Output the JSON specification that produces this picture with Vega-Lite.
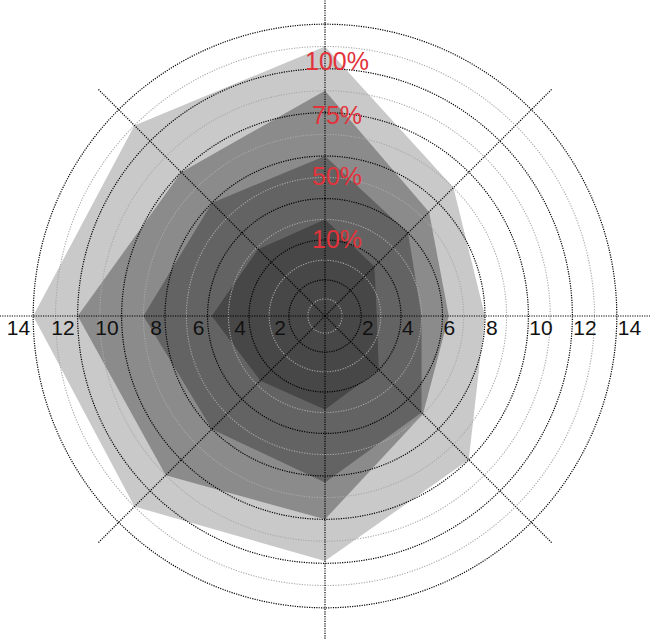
{
  "$schema": "https://vega.github.io/schema/vega-lite/v6.json",
  "width": 650,
  "height": 639,
  "autosize": {"type": "none"},
  "padding": 0,
  "background": "white",
  "config": {"view": {"stroke": null}},
  "resolve": {"scale": {"radius": "independent"}},
  "datasets": {
    "polys": [
      {"s": "s1", "k": 0, "v": 13}, {"s": "s1", "k": 1, "v": 9}, {"s": "s1", "k": 2, "v": 8}, {"s": "s1", "k": 3, "v": 10},
      {"s": "s1", "k": 4, "v": 11.9}, {"s": "s1", "k": 5, "v": 13}, {"s": "s1", "k": 6, "v": 14}, {"s": "s1", "k": 7, "v": 13},
      {"s": "s2", "k": 0, "v": 11}, {"s": "s2", "k": 1, "v": 7.4}, {"s": "s2", "k": 2, "v": 6.3}, {"s": "s2", "k": 3, "v": 7},
      {"s": "s2", "k": 4, "v": 10}, {"s": "s2", "k": 5, "v": 11}, {"s": "s2", "k": 6, "v": 12}, {"s": "s2", "k": 7, "v": 10},
      {"s": "s3", "k": 0, "v": 8}, {"s": "s3", "k": 1, "v": 6}, {"s": "s3", "k": 2, "v": 5}, {"s": "s3", "k": 3, "v": 6.9},
      {"s": "s3", "k": 4, "v": 8.3}, {"s": "s3", "k": 5, "v": 8}, {"s": "s3", "k": 6, "v": 9}, {"s": "s3", "k": 7, "v": 8},
      {"s": "s4", "k": 0, "v": 5}, {"s": "s4", "k": 1, "v": 3.7}, {"s": "s4", "k": 2, "v": 2.8}, {"s": "s4", "k": 3, "v": 4},
      {"s": "s4", "k": 4, "v": 4.85}, {"s": "s4", "k": 5, "v": 4.75}, {"s": "s4", "k": 6, "v": 5.8}, {"s": "s4", "k": 7, "v": 4.9}
    ],
    "minor": [{"v": 1}, {"v": 3}, {"v": 5}, {"v": 7}, {"v": 9}, {"v": 11}, {"v": 13}],
    "major": [{"v": 2}, {"v": 4}, {"v": 6}, {"v": 8}, {"v": 10}, {"v": 12}, {"v": 14}],
    "spokes": [
      {"k": 0, "r": 0}, {"k": 0, "r": 25}, {"k": 1, "r": 0}, {"k": 1, "r": 15.3},
      {"k": 2, "r": 0}, {"k": 2, "r": 25}, {"k": 3, "r": 0}, {"k": 3, "r": 15.3},
      {"k": 4, "r": 0}, {"k": 4, "r": 25}, {"k": 5, "r": 0}, {"k": 5, "r": 15.3},
      {"k": 6, "r": 0}, {"k": 6, "r": 25}, {"k": 7, "r": 0}, {"k": 7, "r": 15.3}
    ],
    "ticks": [{"t": 2}, {"t": 4}, {"t": 6}, {"t": 8}, {"t": 10}, {"t": 12}, {"t": 14}],
    "pct": [
      {"label": "100%", "v": 12.3},
      {"label": "75%", "v": 9.85},
      {"label": "50%", "v": 7},
      {"label": "10%", "v": 4}
    ]
  },
  "layer": [
    {
      "data": {"name": "polys"},
      "transform": [
        {"filter": "datum.s === 's1'"},
        {"calculate": "pow(datum.v, 1.074) * sin(datum.k * PI / 4)", "as": "px"},
        {"calculate": "pow(datum.v, 1.074) * cos(datum.k * PI / 4)", "as": "py"}
      ],
      "mark": {"type": "line", "interpolate": "linear-closed", "fill": "#c9c9c9", "stroke": null, "strokeWidth": 0},
      "encoding": {
        "x": {"field": "px", "type": "quantitative", "scale": {"domain": [-18.955, 18.955], "nice": false, "zero": false}, "axis": null},
        "y": {"field": "py", "type": "quantitative", "scale": {"domain": [-18.838, 18.43], "nice": false, "zero": false}, "axis": null},
        "order": {"field": "k", "type": "quantitative"}
      }
    },
    {
      "data": {"name": "polys"},
      "transform": [
        {"filter": "datum.s === 's2'"},
        {"calculate": "pow(datum.v, 1.074) * sin(datum.k * PI / 4)", "as": "px"},
        {"calculate": "pow(datum.v, 1.074) * cos(datum.k * PI / 4)", "as": "py"}
      ],
      "mark": {"type": "line", "interpolate": "linear-closed", "fill": "#8b8b8b", "stroke": null, "strokeWidth": 0},
      "encoding": {
        "x": {"field": "px", "type": "quantitative"},
        "y": {"field": "py", "type": "quantitative"},
        "order": {"field": "k", "type": "quantitative"}
      }
    },
    {
      "data": {"name": "polys"},
      "transform": [
        {"filter": "datum.s === 's3'"},
        {"calculate": "pow(datum.v, 1.074) * sin(datum.k * PI / 4)", "as": "px"},
        {"calculate": "pow(datum.v, 1.074) * cos(datum.k * PI / 4)", "as": "py"}
      ],
      "mark": {"type": "line", "interpolate": "linear-closed", "fill": "#636363", "stroke": null, "strokeWidth": 0},
      "encoding": {
        "x": {"field": "px", "type": "quantitative"},
        "y": {"field": "py", "type": "quantitative"},
        "order": {"field": "k", "type": "quantitative"}
      }
    },
    {
      "data": {"name": "polys"},
      "transform": [
        {"filter": "datum.s === 's4'"},
        {"calculate": "pow(datum.v, 1.074) * sin(datum.k * PI / 4)", "as": "px"},
        {"calculate": "pow(datum.v, 1.074) * cos(datum.k * PI / 4)", "as": "py"}
      ],
      "mark": {"type": "line", "interpolate": "linear-closed", "fill": "#474747", "stroke": null, "strokeWidth": 0},
      "encoding": {
        "x": {"field": "px", "type": "quantitative"},
        "y": {"field": "py", "type": "quantitative"},
        "order": {"field": "k", "type": "quantitative"}
      }
    },
    {
      "data": {"name": "minor"},
      "transform": [{"calculate": "pow(datum.v, 1.074)", "as": "rr"}],
      "mark": {"type": "arc", "theta": 0, "theta2": 6.2832, "filled": false, "stroke": "#a8a8a8", "strokeWidth": 1.1, "strokeDash": [1.2, 1.4]},
      "encoding": {
        "x": {"datum": 0, "type": "quantitative"},
        "y": {"datum": 0, "type": "quantitative"},
        "radius": {"field": "rr", "type": "quantitative", "stack": null, "scale": {"type": "linear", "domain": [0, 10], "range": [0, 171.46], "zero": true, "nice": false}, "legend": null}
      }
    },
    {
      "data": {"name": "major"},
      "transform": [{"calculate": "pow(datum.v, 1.074)", "as": "rr"}],
      "mark": {"type": "arc", "theta": 0, "theta2": 6.2832, "filled": false, "stroke": "#000000", "strokeWidth": 1.2, "strokeDash": [1.2, 1.2]},
      "encoding": {
        "x": {"datum": 0, "type": "quantitative"},
        "y": {"datum": 0, "type": "quantitative"},
        "radius": {"field": "rr", "type": "quantitative", "stack": null, "scale": {"type": "linear", "domain": [0, 10], "range": [0, 171.46], "zero": true, "nice": false}, "legend": null}
      }
    },
    {
      "data": {"name": "spokes"},
      "transform": [
        {"calculate": "pow(datum.r, 1.074) * sin(datum.k * PI / 4)", "as": "ex"},
        {"calculate": "pow(datum.r, 1.074) * cos(datum.k * PI / 4)", "as": "ey"}
      ],
      "mark": {"type": "line", "color": "#000000", "strokeWidth": 1.2, "strokeDash": [1.2, 1.2]},
      "encoding": {
        "x": {"field": "ex", "type": "quantitative"},
        "y": {"field": "ey", "type": "quantitative"},
        "detail": {"field": "k", "type": "nominal"},
        "order": {"field": "r", "type": "quantitative"}
      }
    },
    {
      "data": {"name": "ticks"},
      "transform": [{"calculate": "pow(datum.t, 1.074)", "as": "px"}],
      "mark": {"type": "text", "align": "left", "baseline": "alphabetic", "dx": 1, "dy": 19, "font": "Liberation Sans", "fontSize": 21, "color": "#111111"},
      "encoding": {
        "x": {"field": "px", "type": "quantitative"},
        "y": {"datum": 0, "type": "quantitative"},
        "text": {"field": "t", "type": "quantitative"}
      }
    },
    {
      "data": {"name": "ticks"},
      "transform": [{"calculate": "-pow(datum.t, 1.074)", "as": "px"}],
      "mark": {"type": "text", "align": "right", "baseline": "alphabetic", "dx": -3, "dy": 19, "font": "Liberation Sans", "fontSize": 21, "color": "#111111"},
      "encoding": {
        "x": {"field": "px", "type": "quantitative"},
        "y": {"datum": 0, "type": "quantitative"},
        "text": {"field": "t", "type": "quantitative"}
      }
    },
    {
      "data": {"name": "pct"},
      "transform": [{"calculate": "pow(datum.v, 1.074)", "as": "py"}],
      "mark": {"type": "text", "align": "center", "baseline": "middle", "dx": 12, "font": "Liberation Sans", "fontSize": 25, "color": "#e2333b"},
      "encoding": {
        "x": {"datum": 0, "type": "quantitative"},
        "y": {"field": "py", "type": "quantitative"},
        "text": {"field": "label", "type": "nominal"}
      }
    }
  ]
}
